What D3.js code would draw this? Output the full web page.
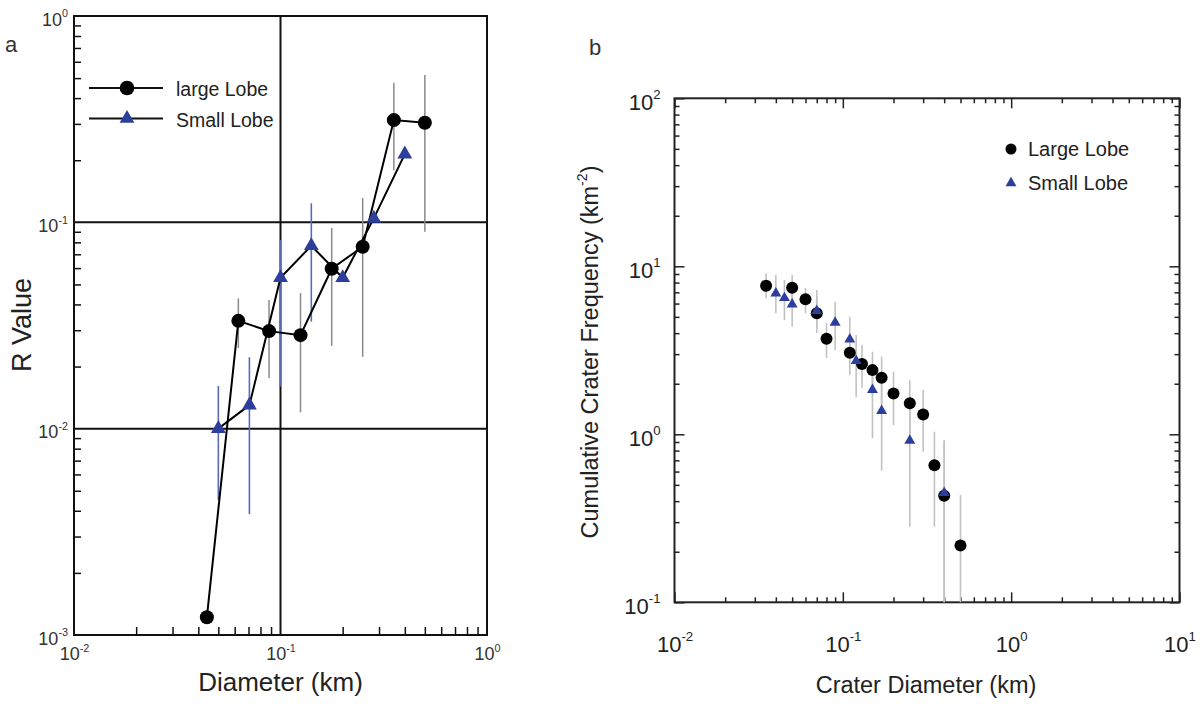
<!DOCTYPE html>
<html><head><meta charset="utf-8">
<script src="https://cdn.jsdelivr.net/npm/d3@7"></script>
<style>body{margin:0;background:#fff;} svg{display:block;font-family:"Liberation Sans",Arial,Helvetica,sans-serif;}</style>
</head><body><svg id="c" width="1200" height="706"></svg>
<script>
// ---------- Panel a: R plot ----------
const aLargeD  = [0.044, 0.0625, 0.088, 0.125, 0.177, 0.25, 0.354, 0.5];
const aLargeR  = [0.00122, 0.0333, 0.0297, 0.0284, 0.0596, 0.0762, 0.313, 0.304];
const aLargeLo = [null, 0.0246, 0.0176, 0.0120, 0.0252, 0.0223, 0.179, 0.090];
const aLargeHi = [null, 0.0428, 0.0420, 0.0454, 0.0938, 0.131, 0.475, 0.518];
const aSmallD  = [0.05, 0.0707, 0.1, 0.141, 0.2, 0.283, 0.4];
const aSmallR  = [0.0100, 0.0130, 0.0539, 0.0770, 0.0539, 0.1045, 0.214];
const aSmallLo = [0.00451, 0.00385, 0.016, 0.033, null, null, null];
const aSmallHi = [0.0161, 0.0222, 0.0821, 0.1236, null, null, null];
const aYTicks = [0.001, 0.01, 0.1, 1];
const aXTicks = [0.01, 0.1, 1];
const aGridX = [0.1];
const aGridY = [0.01, 0.1];
const aNames = ["large Lobe", "Small Lobe"];

// ---------- Panel b: cumulative frequency ----------
const bLargeD  = [0.035, 0.05, 0.06, 0.07, 0.08, 0.11, 0.13, 0.15, 0.17, 0.2, 0.25, 0.3, 0.35, 0.4, 0.5];
const bLargeN  = [7.66, 7.46, 6.36, 5.25, 3.71, 3.06, 2.62, 2.41, 2.17, 1.75, 1.53, 1.31, 0.654, 0.431, 0.218];
const bLargeLo = [6.45, 6.3, 5.25, 4.01, 2.85, 2.25, 1.89, 1.7, 1.5, 1.135, 1.0, 0.788, 0.282, 0.05, 0.05];
const bLargeHi = [9.08, 8.87, 7.43, 6.6, 4.60, 4.0, 3.40, 3.10, 2.9, 2.36, 2.10, 1.84, 1.036, 0.925, 0.435];
const bSmallD  = [0.04, 0.045, 0.05, 0.07, 0.09, 0.11, 0.12, 0.15, 0.17, 0.25, 0.4];
const bSmallN  = [6.91, 6.48, 5.94, 5.44, 4.62, 3.68, 2.74, 1.84, 1.38, 0.916, 0.449];
const bSmallLo = [5.25, 4.79, 4.37, 4.3, 3.18, 2.8, 1.67, 0.946, 0.607, 0.282, 0.05];
const bSmallHi = [8.87, 8.29, 7.6, 7.23, 6.16, 5.01, 3.90, 2.6, 2.1, 1.5, 0.9];
const bYTicks = [0.1, 1, 10, 100];
const bXTicks = [0.01, 0.1, 1, 10];
const bNames = ["Large Lobe", "Small Lobe"];

const FONT = '"Liberation Sans",Arial,Helvetica,sans-serif';
const BLUE = "#2c3f9c";
const svg = d3.select("#c");

function minors(lo, hi) { const o = []; for (let e = lo; e < hi; e++) for (let m = 2; m <= 9; m++) o.push(m * Math.pow(10, e)); return o; }
function supLabel(sel, fs, dy) {
  sel.each(function(d) {
    const e = Math.round(Math.log10(d));
    const t = d3.select(this); t.text(null);
    t.append("tspan").text("10");
    t.append("tspan").attr("font-size", fs).attr("dy", dy).text(String(e));
  });
}
function zip(xs, ys, lo, hi) { return xs.map((x, i) => ({x, y: ys[i], lo: lo ? lo[i] : null, hi: hi ? hi[i] : null})); }
function cleanAxis(g) { g.select(".domain").remove(); g.attr("font-family", FONT); }

// =============== Panel a ===============
const xA = d3.scaleLog().domain([0.01, 1]).range([74, 487]);
const yA = d3.scaleLog().domain([0.001, 1]).range([635, 16]);
const gA = svg.append("g");
const aL = zip(aLargeD, aLargeR, aLargeLo, aLargeHi);
const aS = zip(aSmallD, aSmallR, aSmallLo, aSmallHi);

gA.append("g").selectAll("line").data(aGridX).join("line")
  .attr("x1", d => xA(d)).attr("x2", d => xA(d)).attr("y1", yA.range()[1]).attr("y2", yA.range()[0])
  .attr("stroke", "#111").attr("stroke-width", 2);
gA.append("g").selectAll("line").data(aGridY).join("line")
  .attr("y1", d => yA(d)).attr("y2", d => yA(d)).attr("x1", xA.range()[0]).attr("x2", xA.range()[1])
  .attr("stroke", "#111").attr("stroke-width", 2);
gA.append("rect").attr("x", xA.range()[0]).attr("y", yA.range()[1])
  .attr("width", xA.range()[1] - xA.range()[0]).attr("height", yA.range()[0] - yA.range()[1])
  .attr("fill", "none").attr("stroke", "#111").attr("stroke-width", 2);

let ax = gA.append("g").attr("transform", `translate(${xA.range()[0]},0)`)
  .call(d3.axisLeft(yA).tickValues(minors(-3, 0)).tickSize(-7).tickFormat(""));
cleanAxis(ax); ax.selectAll("line").attr("stroke", "#111").attr("stroke-width", 1.5);
ax = gA.append("g").attr("transform", `translate(0,${yA.range()[0]})`)
  .call(d3.axisBottom(xA).tickValues(minors(-2, 0)).tickSize(-8).tickFormat(""));
cleanAxis(ax); ax.selectAll("line").attr("stroke", "#111").attr("stroke-width", 1.5);

ax = gA.append("g").attr("transform", `translate(${xA.range()[0]},0)`)
  .call(d3.axisLeft(yA).tickValues(aYTicks).tickSize(0).tickPadding(6));
cleanAxis(ax); ax.selectAll("line").remove();
ax.selectAll("text").attr("font-size", 18).attr("fill", "#333").attr("dy", "0.5em").call(supLabel, "0.6em", "-0.75em");
ax = gA.append("g").attr("transform", `translate(0,${yA.range()[0]})`)
  .call(d3.axisBottom(xA).tickValues(aXTicks).tickSize(0).tickPadding(12));
cleanAxis(ax); ax.selectAll("line").remove();
ax.selectAll("text").attr("font-size", 18).attr("fill", "#333").call(supLabel, "0.6em", "-0.75em");

// error bars
gA.append("g").selectAll("line").data(aL.filter(d => d.lo != null)).join("line")
  .attr("x1", d => xA(d.x)).attr("x2", d => xA(d.x)).attr("y1", d => yA(d.lo)).attr("y2", d => yA(d.hi))
  .attr("stroke", "#8a8a8a").attr("stroke-width", 1.5);
gA.append("g").selectAll("line").data(aS.filter(d => d.lo != null)).join("line")
  .attr("x1", d => xA(d.x)).attr("x2", d => xA(d.x)).attr("y1", d => yA(d.lo)).attr("y2", d => yA(d.hi))
  .attr("stroke", "#5a6ab8").attr("stroke-width", 1.6);

const lineA = d3.line().x(d => xA(d.x)).y(d => yA(d.y));
gA.append("path").datum(aL).attr("d", lineA).attr("fill", "none").attr("stroke", "#000").attr("stroke-width", 2);
gA.append("path").datum(aS).attr("d", lineA).attr("fill", "none").attr("stroke", "#000").attr("stroke-width", 2);
gA.append("g").selectAll("circle").data(aL).join("circle")
  .attr("cx", d => xA(d.x)).attr("cy", d => yA(d.y)).attr("r", 7).attr("fill", "#000");
const triA = d3.symbol(d3.symbolTriangle, 95);
gA.append("g").selectAll("path").data(aS).join("path")
  .attr("transform", d => `translate(${xA(d.x)},${yA(d.y)})`).attr("d", triA).attr("fill", BLUE);

// legend a
const legA = gA.append("g");
[0, 1].forEach(i => {
  const y = 88 + i * 30.5;
  legA.append("line").attr("x1", 89).attr("x2", 163).attr("y1", y).attr("y2", y).attr("stroke", "#111").attr("stroke-width", 2);
  if (i === 0) legA.append("circle").attr("cx", 127).attr("cy", y).attr("r", 7.3).attr("fill", "#000");
  else legA.append("path").attr("transform", `translate(127,${y})`).attr("d", triA).attr("fill", BLUE);
  legA.append("text").attr("x", 176).attr("y", y + 8).attr("font-size", 19.5).attr("fill", "#222").text(aNames[i]);
});

gA.append("text").attr("x", (xA.range()[0] + xA.range()[1]) / 2).attr("y", 691).attr("text-anchor", "middle")
  .attr("font-size", 26).attr("fill", "#222").text("Diameter (km)");
gA.append("text").attr("transform", `translate(31,325) rotate(-90)`).attr("text-anchor", "middle")
  .attr("font-size", 27).attr("fill", "#222").text("R Value");
gA.append("text").attr("x", 5).attr("y", 52).attr("font-size", 22).attr("fill", "#333").text("a");

// =============== Panel b ===============
const xB = d3.scaleLog().domain([0.01, 10]).range([674.5, 1179.5]);
const yB = d3.scaleLog().domain([0.1, 100]).range([602.3, 98.3]);
const gB = svg.append("g");
const bL = zip(bLargeD, bLargeN, bLargeLo, bLargeHi);
const bS = zip(bSmallD, bSmallN, bSmallLo, bSmallHi);

svg.append("defs").append("clipPath").attr("id", "clipB").append("rect")
  .attr("x", xB.range()[0]).attr("y", yB.range()[1])
  .attr("width", xB.range()[1] - xB.range()[0]).attr("height", yB.range()[0] - yB.range()[1]);

gB.append("rect").attr("x", xB.range()[0]).attr("y", yB.range()[1])
  .attr("width", xB.range()[1] - xB.range()[0]).attr("height", yB.range()[0] - yB.range()[1])
  .attr("fill", "none").attr("stroke", "#222").attr("stroke-width", 2);

function ticksB(axisFn, scale, vals, size, tr) {
  const g = gB.append("g").attr("transform", tr).call(axisFn(scale).tickValues(vals).tickSize(-size).tickFormat(""));
  cleanAxis(g); g.selectAll("line").attr("stroke", "#222").attr("stroke-width", 1.5);
}
const L = `translate(${xB.range()[0]},0)`, R = `translate(${xB.range()[1]},0)`;
const T = `translate(0,${yB.range()[1]})`, B = `translate(0,${yB.range()[0]})`;
ticksB(d3.axisLeft, yB, minors(-1, 2), 5, L); ticksB(d3.axisLeft, yB, bYTicks, 10, L);
ticksB(d3.axisRight, yB, minors(-1, 2), 5, R); ticksB(d3.axisRight, yB, bYTicks, 10, R);
ticksB(d3.axisBottom, xB, minors(-2, 1), 5, B); ticksB(d3.axisBottom, xB, bXTicks, 10, B);
ticksB(d3.axisTop, xB, minors(-2, 1), 5, T); ticksB(d3.axisTop, xB, bXTicks, 10, T);

ax = gB.append("g").attr("transform", L).call(d3.axisLeft(yB).tickValues(bYTicks).tickSize(0).tickPadding(14));
cleanAxis(ax); ax.selectAll("line").remove();
ax.selectAll("text").attr("font-size", 22).attr("fill", "#222").attr("dy", "0.5em").call(supLabel, "0.6em", "-0.8em");
ax = gB.append("g").attr("transform", B).call(d3.axisBottom(xB).tickValues(bXTicks).tickSize(0).tickPadding(34));
cleanAxis(ax); ax.selectAll("line").remove();
ax.selectAll("text").attr("font-size", 22).attr("fill", "#222").call(supLabel, "0.6em", "-0.8em");

const dataB = gB.append("g").attr("clip-path", "url(#clipB)");
dataB.append("g").selectAll("line").data(bL.concat(bS)).join("line")
  .attr("x1", d => xB(d.x)).attr("x2", d => xB(d.x)).attr("y1", d => yB(d.lo)).attr("y2", d => yB(d.hi))
  .attr("stroke", "#c2c2c2").attr("stroke-width", 1.6);
dataB.append("g").selectAll("circle").data(bL).join("circle")
  .attr("cx", d => xB(d.x)).attr("cy", d => yB(d.y)).attr("r", 6).attr("fill", "#000");
const triB = d3.symbol(d3.symbolTriangle, 52);
dataB.append("g").selectAll("path").data(bS).join("path")
  .attr("transform", d => `translate(${xB(d.x)},${yB(d.y)})`).attr("d", triB).attr("fill", BLUE);

// legend b
[0, 1].forEach(i => {
  const y = 149 + i * 34;
  if (i === 0) gB.append("circle").attr("cx", 1011).attr("cy", y).attr("r", 5.5).attr("fill", "#000");
  else gB.append("path").attr("transform", `translate(1011,${y})`).attr("d", triB).attr("fill", BLUE);
  gB.append("text").attr("x", 1028).attr("y", y + 7).attr("font-size", 20).attr("fill", "#222").text(bNames[i]);
});

gB.append("text").attr("x", 926).attr("y", 693).attr("text-anchor", "middle")
  .attr("font-size", 23.5).attr("fill", "#222").text("Crater Diameter (km)");
const yt = gB.append("text").attr("transform", "translate(598,352) rotate(-90)").attr("text-anchor", "middle")
  .attr("font-size", 23.5).attr("fill", "#222");
yt.append("tspan").text("Cumulative Crater Frequency (km");
yt.append("tspan").attr("font-size", "0.6em").attr("dy", "-0.8em").text("-2");
yt.append("tspan").attr("dy", "0.48em").text(")");
gB.append("text").attr("x", 589).attr("y", 55).attr("font-size", 22).attr("fill", "#333").text("b");
</script></body></html>
